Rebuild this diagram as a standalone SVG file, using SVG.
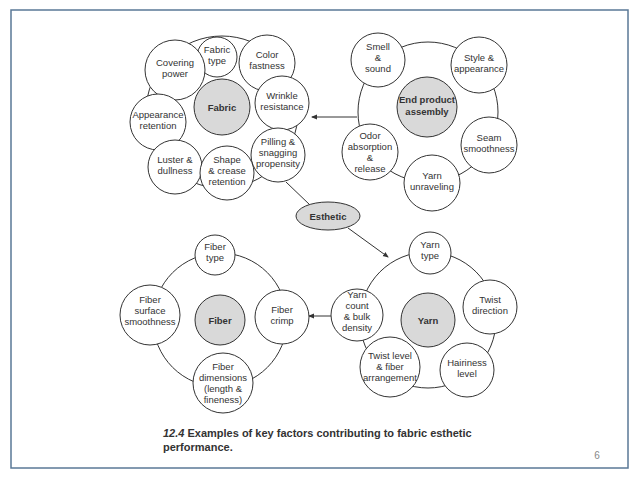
<svg xmlns="http://www.w3.org/2000/svg" width="638" height="478" viewBox="0 0 638 478">
<defs>
<style>
.r{fill:none;stroke:#333;stroke-width:1}
.c{fill:#fff;stroke:#333;stroke-width:1}
.h{fill:#d9d9d9;stroke:#333;stroke-width:1}
text{font-family:"Liberation Sans",Arial,sans-serif;font-size:9.5px;fill:#333;text-anchor:middle}
.b{font-weight:bold}
.l{stroke:#333;stroke-width:1;fill:none}
</style>
<marker id="a" markerWidth="6" markerHeight="6" refX="5" refY="3" orient="auto"><path d="M0,0.5 L6,3 L0,5.5z" fill="#333"/></marker>
</defs>
<rect x="0" y="0" width="638" height="478" fill="#fff"/>
<rect x="11" y="10" width="617" height="458" fill="none" stroke="#5a7896" stroke-width="1.5"/>
<g id="connectors">
<line class="l" x1="357" y1="117" x2="312" y2="117" marker-end="url(#a)"/>
<line class="l" x1="286" y1="182" x2="310" y2="205"/>
<line class="l" x1="348" y1="228" x2="388" y2="257" marker-end="url(#a)"/>
<line class="l" x1="331" y1="316" x2="309" y2="316" marker-end="url(#a)"/>
</g>
<g id="fabric-cluster">
<circle class="r" cx="222" cy="112" r="76"/>
<g id="fabric"><circle class="h" cx="222" cy="107" r="28"/><text class="b" x="222" y="111">Fabric</text></g>
<g id="fabric-type"><circle class="c" cx="217" cy="57" r="20"/><text x="217" y="53">Fabric</text><text x="217" y="64">type</text></g>
<g id="color"><circle class="c" cx="267" cy="63" r="28"/><text x="267" y="58">Color</text><text x="267" y="69">fastness</text></g>
<g id="covering"><circle class="c" cx="175" cy="70" r="30"/><text x="175" y="66">Covering</text><text x="175" y="77">power</text></g>
<g id="wrinkle"><circle class="c" cx="282" cy="103" r="27"/><text x="282" y="99">Wrinkle</text><text x="282" y="110">resistance</text></g>
<g id="appearance"><circle class="c" cx="158" cy="122" r="28"/><text x="158" y="118">Appearance</text><text x="158" y="129">retention</text></g>
<g id="pilling"><circle class="c" cx="278" cy="155" r="27"/><text x="278" y="145">Pilling &amp;</text><text x="278" y="156">snagging</text><text x="278" y="167">propensity</text></g>
<g id="luster"><circle class="c" cx="175" cy="167" r="27"/><text x="175" y="163">Luster &amp;</text><text x="175" y="174">dullness</text></g>
<g id="shape"><circle class="c" cx="227" cy="173" r="27"/><text x="227" y="163">Shape</text><text x="227" y="174">&amp; crease</text><text x="227" y="185">retention</text></g>
</g>
<g id="end-cluster">
<circle class="r" cx="428" cy="112" r="70"/>
<g id="end"><circle class="h" cx="427" cy="107" r="30"/><text class="b" x="427" y="103">End product</text><text class="b" x="427" y="115">assembly</text></g>
<g id="smell"><circle class="c" cx="378" cy="60" r="27"/><text x="378" y="50">Smell</text><text x="378" y="61">&amp;</text><text x="378" y="72">sound</text></g>
<g id="style"><circle class="c" cx="479" cy="65" r="28"/><text x="479" y="61">Style &amp;</text><text x="479" y="72">appearance</text></g>
<g id="seam"><circle class="c" cx="489" cy="145" r="28"/><text x="489" y="141">Seam</text><text x="489" y="152">smoothness</text></g>
<g id="unravel"><circle class="c" cx="432" cy="183" r="28"/><text x="432" y="179">Yarn</text><text x="432" y="190">unraveling</text></g>
<g id="odor"><circle class="c" cx="370" cy="152" r="28"/><text x="370" y="139">Odor</text><text x="370" y="150">absorption</text><text x="370" y="161">&amp;</text><text x="370" y="172">release</text></g>
</g>
<g id="esthetic"><ellipse class="h" cx="328" cy="216" rx="32" ry="14"/><text class="b" x="328" y="220">Esthetic</text></g>
<g id="fiber-cluster">
<circle class="r" cx="220" cy="320" r="67"/>
<g id="fiber"><circle class="h" cx="220" cy="320" r="25"/><text class="b" x="220" y="324">Fiber</text></g>
<g id="fiber-type"><circle class="c" cx="215" cy="255" r="20"/><text x="215" y="250">Fiber</text><text x="215" y="261">type</text></g>
<g id="fiber-surface"><circle class="c" cx="150" cy="315" r="30"/><text x="150" y="303">Fiber</text><text x="150" y="314">surface</text><text x="150" y="325">smoothness</text></g>
<g id="fiber-crimp"><circle class="c" cx="282" cy="317" r="27"/><text x="282" y="313">Fiber</text><text x="282" y="324">crimp</text></g>
<g id="fiber-dim"><circle class="c" cx="223" cy="383" r="30"/><text x="223" y="370">Fiber</text><text x="223" y="381">dimensions</text><text x="223" y="392">(length &amp;</text><text x="223" y="403">fineness)</text></g>
</g>
<g id="yarn-cluster">
<circle class="r" cx="428" cy="320" r="68"/>
<g id="yarn"><circle class="h" cx="428" cy="320" r="27"/><text class="b" x="428" y="324">Yarn</text></g>
<g id="yarn-type"><circle class="c" cx="430" cy="253" r="21"/><text x="430" y="248">Yarn</text><text x="430" y="259">type</text></g>
<g id="twist-dir"><circle class="c" cx="490" cy="307" r="27"/><text x="490" y="303">Twist</text><text x="490" y="314">direction</text></g>
<g id="yarn-count"><circle class="c" cx="357" cy="315" r="26"/><text x="357" y="298">Yarn</text><text x="357" y="309">count</text><text x="357" y="320">&amp; bulk</text><text x="357" y="331">density</text></g>
<g id="twist-level"><circle class="c" cx="390" cy="367" r="30"/><text x="390" y="359">Twist level</text><text x="390" y="370">&amp; fiber</text><text x="390" y="381">arrangement</text></g>
<g id="hairiness"><circle class="c" cx="467" cy="370" r="27"/><text x="467" y="366">Hairiness</text><text x="467" y="377">level</text></g>
</g>
<text x="163" y="437" style="text-anchor:start;font-size:11px;font-weight:bold"><tspan font-style="italic">12.4</tspan> Examples of key factors contributing to fabric esthetic</text>
<text x="163" y="451" style="text-anchor:start;font-size:11px;font-weight:bold">performance.</text>
<text x="597" y="459" style="font-size:10px;fill:#888">6</text>
</svg>
